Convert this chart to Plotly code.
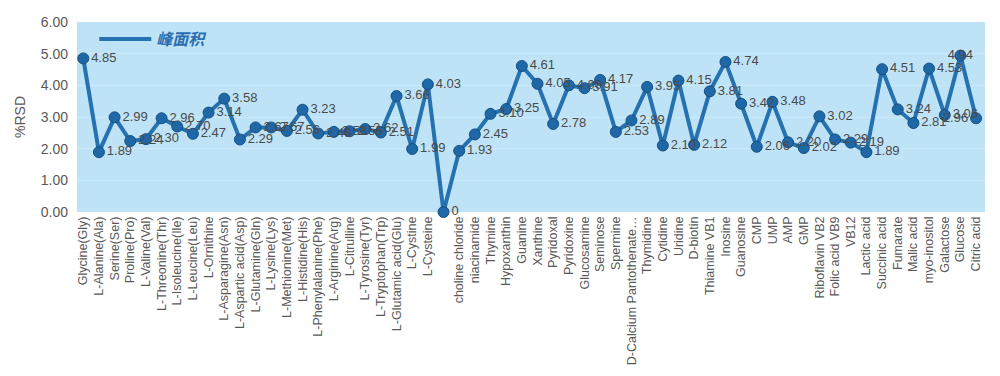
import plotly.graph_objects as go

categories = [
    "Glycine(Gly)", "L-Alanine(Ala)", "Serine(Ser)", "Proline(Pro)", "L-Valine(Val)",
    "L-Threonine(Thr)", "L-Isoleucine(Ile)", "L-Leucine(Leu)", "L-Ornithine",
    "L-Asparagine(Asn)", "L-Aspartic acid(Asp)", "L-Glutamine(Gln)", "L-Lysine(Lys)",
    "L-Methionine(Met)", "L-Histidine(His)", "L-Phenylalanine(Phe)", "L-Arginine(Arg)",
    "L-Citrulline", "L-Tyrosine(Tyr)", "L-Tryptophan(Trp)", "L-Glutamic acid(Glu)",
    "L-Cystine", "L-Cysteine", " ", "choline chloride", "niacinamide", "Thymine",
    "Hypoxanthin", "Guanine", "Xanthine", "Pyridoxal", "Pyridoxine", "Glucosamine",
    "Seminose", "Spermine", "D-Calcium Pantothenate…", "Thymidine", "Cytidine",
    "Uridine", "D-biotin", "Thiamine VB1", "Inosine", "Guanosine", "CMP", "UMP",
    "AMP", "GMP", "Riboflavin VB2", "Folic acid VB9", "VB12", "Lactic acid",
    "Succinic acid", "Fumarate", "Malic acid", "myo-inositol", "Galactose",
    "Glucose", "Citric acid",
]

rsd_values = [
    4.85, 1.89, 2.99, 2.24, 2.30, 2.96, 2.70, 2.47, 3.14, 3.58,
    2.29, 2.67, 2.67, 2.56, 3.23, 2.48, 2.53, 2.55, 2.62, 2.51,
    3.66, 1.99, 4.03, 0, 1.93, 2.45, 3.10, 3.25, 4.61, 4.05,
    2.78, 4.00, 3.91, 4.17, 2.53, 2.89, 3.95, 2.10, 4.15, 2.12,
    3.81, 4.74, 3.42, 2.06, 3.48, 2.20, 2.02, 3.02, 2.29, 2.19,
    1.89, 4.51, 3.24, 2.81, 4.53, 3.06, 4.94, 2.96,
]

series_name = "峰面积"
y_title = "%RSD"
y_ticks = [0, 1, 2, 3, 4, 5, 6]

labels = [f"{v:.2f}" if v else "0" for v in rsd_values]

# labels near the right edge are pulled back inside the plot, as in the reference
edge_positions = {"Glucose": "middle center", "Citric acid": "middle left"}
text_positions = [edge_positions.get(c, "middle right") for c in categories]

LINE_COLOR = "#2671b0"
TICK_COLOR = "#595959"
L, R, T, B = 77, 15, 22, 164

fig = go.Figure()
fig.add_trace(go.Scatter(
    x=categories,
    y=rsd_values,
    mode="lines+markers+text",
    name=series_name,
    showlegend=False,
    text=labels,
    textposition=text_positions,
    textfont=dict(family="Liberation Sans, Arial, sans-serif", size=13, color="#4a4a4a"),
    line=dict(color=LINE_COLOR, width=4),
    marker=dict(size=11, color="#1f68a8", line=dict(color="#174f80", width=1)),
    cliponaxis=False,
))
# legend entry (line only, as in the reference)
fig.add_trace(go.Scatter(
    x=[None], y=[None], mode="lines", name=series_name,
    line=dict(color=LINE_COLOR, width=4), showlegend=True,
))

fig.update_layout(
    width=1000,
    height=376,
    margin=dict(l=L, r=R, t=T, b=B, autoexpand=False),
    paper_bgcolor="white",
    plot_bgcolor="#bee3f7",
    showlegend=True,
    legend=dict(
        x=0.019, y=1.0, xanchor="left", yanchor="top",
        bgcolor="rgba(0,0,0,0)",
        itemwidth=52,
        font=dict(family="Noto Sans CJK SC", size=16, color="#2a6db0",
                  weight="bold", style="italic"),
    ),
    font=dict(family="Liberation Sans, Arial, sans-serif", color=TICK_COLOR),
    annotations=[dict(
        text=y_title, textangle=-90, showarrow=False,
        xref="paper", yref="paper",
        x=(20 - L) / (1000 - L - R), y=0.5, xanchor="center", yanchor="middle",
        font=dict(size=14, color=TICK_COLOR),
    )],
)

fig.update_xaxes(
    type="category",
    tickmode="linear",
    dtick=1,
    tickangle=-90,
    tickfont=dict(size=12.5, color=TICK_COLOR),
    showgrid=False,
    showline=False,
    ticks="",
    ticklen=0,
    ticklabelstandoff=1,
    automargin=False,
    range=[-0.4, len(categories) - 1 + 0.57],
)

fig.update_yaxes(
    range=[0, 6],
    tickvals=y_ticks,
    tickformat=".2f",
    tickfont=dict(size=14, color=TICK_COLOR),
    showgrid=True,
    gridcolor="#cdeafa",
    gridwidth=1,
    zeroline=False,
    showline=False,
    ticks="",
    ticklen=0,
    ticklabelstandoff=8,
    automargin=False,
)

fig.write_html(
    "out.html",
    config={"displayModeBar": False},
    post_script="document.body.style.margin='0';",
)
